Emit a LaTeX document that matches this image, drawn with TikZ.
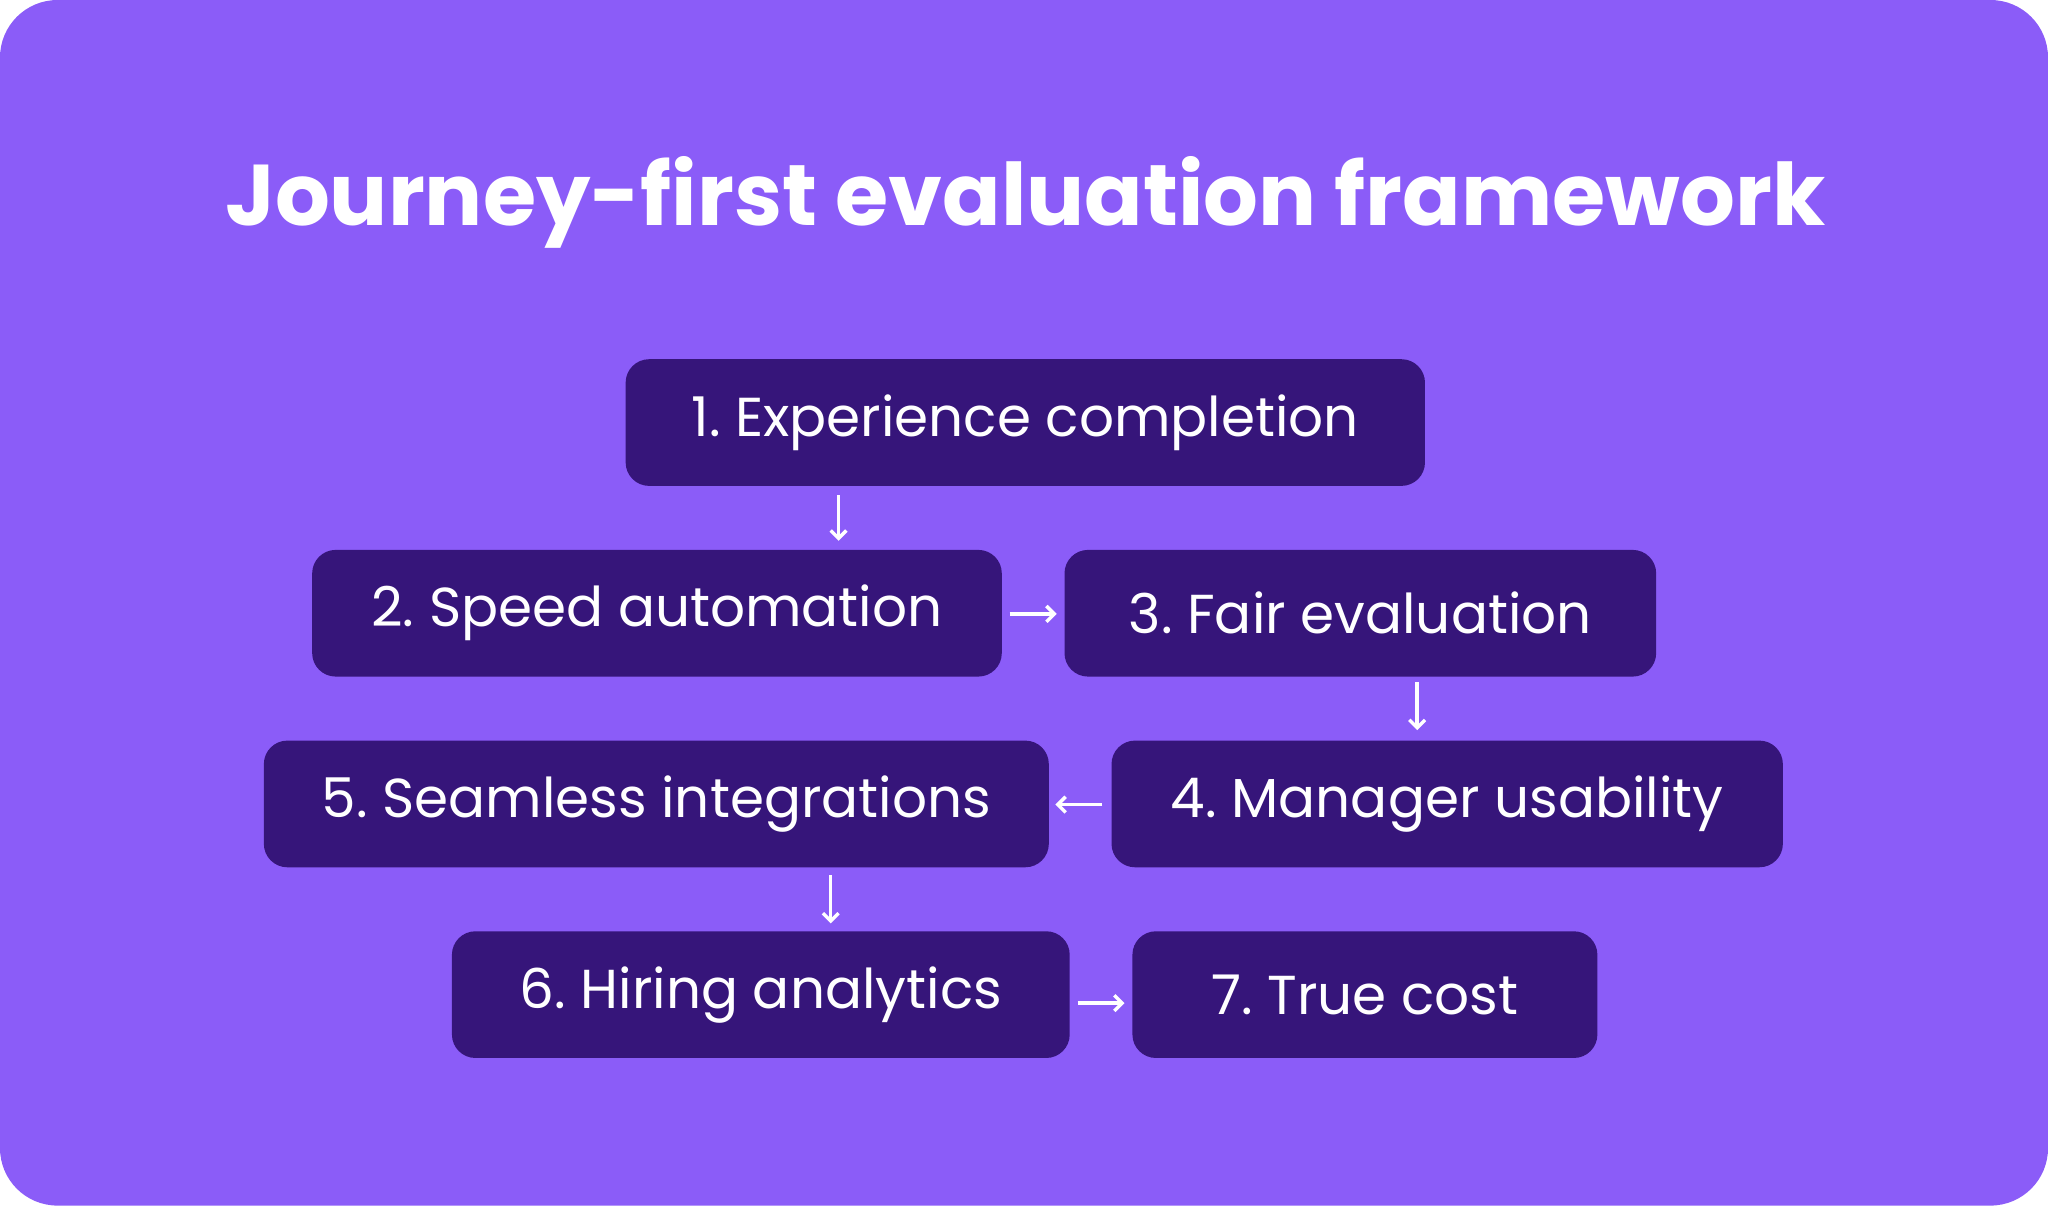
\documentclass[tikz,border=0pt]{standalone}
\usepackage{fontspec}
\setmainfont{Poppins}
\usetikzlibrary{arrows.meta}
\definecolor{bg}{HTML}{8B5CF8}
\definecolor{box}{HTML}{36157A}
\begin{document}
\begin{tikzpicture}[x=0.5pt,y=-0.5pt,
  stepbox/.style={fill=box,rounded corners=9pt,inner sep=0pt},
  lbl/.style={text=white,font=\fontsize{21}{24}\selectfont},
  conn/.style={draw=white,line width=1.3pt,-{Straight Barb[length=3pt,width=6pt]}}]
\fill[bg,rounded corners=22pt] (0,0) rectangle (1568,923);
\useasboundingbox (0,0) rectangle (1568,923);
\node[text=white,font=\fontsize{33}{38}\selectfont\bfseries] (title) at (785,155) {Journey-first evaluation framework};
\newcommand\bx[6]{\fill[stepbox] (#2,#3) rectangle (#4,#5);
  \node[lbl] (#1) at ({(#2+#4)/2},{(#3+#5)/2}) {#6};}
\bx{b1}{479}{275}{1091}{372}{1.\ Experience completion}
\bx{b2}{239}{421}{767}{518}{2.\ Speed automation}
\bx{b3}{815}{421}{1268}{518}{3.\ Fair evaluation}
\bx{b5}{202}{567}{803}{664}{5.\ Seamless integrations}
\bx{b4}{851}{567}{1365}{664}{4.\ Manager usability}
\bx{b6}{346}{713}{819}{810}{6.\ Hiring analytics}
\bx{b7}{867}{713}{1223}{810}{7.\ True cost}
\coordinate (a1s) at (642,379); \coordinate (a1e) at (642,414);
\coordinate (a2s) at (773,470); \coordinate (a2e) at (809,470);
\coordinate (a3s) at (1085,522); \coordinate (a3e) at (1085,559);
\coordinate (a4s) at (844,616); \coordinate (a4e) at (808,616);
\coordinate (a5s) at (636,670); \coordinate (a5e) at (636,707);
\coordinate (a6s) at (825,768); \coordinate (a6e) at (861,768);
\foreach \i in {1,...,6} \draw[conn] (a\i s) -- (a\i e);
\end{tikzpicture}
\end{document}
